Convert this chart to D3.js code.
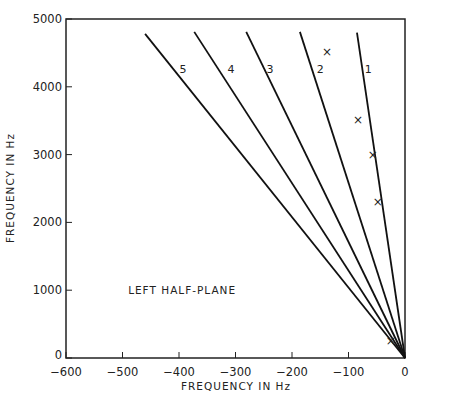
<!DOCTYPE html>
<html><head><meta charset="utf-8">
<script src="https://cdn.jsdelivr.net/npm/d3@7"></script>
<style>body{margin:0;background:#fff}text{font-family:"DejaVu Sans",sans-serif;fill:#222}</style>
</head><body><svg id="c" width="474" height="411"></svg>
<script>
const xTicks=[-600,-500,-400,-300,-200,-100,0];
const yTicks=[0,1000,2000,3000,4000,5000];
const lineNames=["1","2","3","4","5"];
const lineEndX=[-85,-186,-281,-373,-460];
const lineEndY=[4800,4810,4810,4810,4780];
const labelX=[-65,-150,-239,-308,-393];
const labelY=[4200,4200,4200,4200,4200];
const crossX=[-138,-83,-57,-48,-25];
const crossY=[4520,3510,3000,2300,250];

const svg=d3.select("#c");
const x=d3.scaleLinear().domain([-600,0]).range([66,405]);
const y=d3.scaleLinear().domain([0,5000]).range([358,19]);
const g=svg.append("g");
g.append("rect").attr("x",66).attr("y",19).attr("width",339).attr("height",339).attr("fill","none").attr("stroke","#222").attr("stroke-width",1.5);
g.selectAll(".xt").data(xTicks).join("line").attr("x1",d=>x(d)).attr("x2",d=>x(d)).attr("y1",358).attr("y2",352).attr("stroke","#222");
g.selectAll(".yt").data(yTicks).join("line").attr("x1",66).attr("x2",72).attr("y1",d=>y(d)).attr("y2",d=>y(d)).attr("stroke","#222");
g.selectAll(".xl").data(xTicks).join("text").attr("x",d=>x(d)).attr("y",376).attr("text-anchor","middle").attr("font-size",11.5).text(d=>d<0?"\u2212"+(-d):d);
g.selectAll(".yl").data(yTicks).join("text").attr("x",62).attr("y",d=>y(d)+(d===0?1:4)).attr("text-anchor","end").attr("font-size",11.5).text(d=>d);
g.append("text").attr("x",236).attr("y",390).attr("text-anchor","middle").attr("font-size",10.5).attr("letter-spacing",1).text("FREQUENCY IN Hz");
g.append("text").attr("transform","translate(14,188) rotate(-90)").attr("text-anchor","middle").attr("font-size",10.5).attr("letter-spacing",1).text("FREQUENCY IN Hz");
g.selectAll(".ln").data(lineNames).join("line").attr("x1",x(0)).attr("y1",y(0)).attr("x2",(d,i)=>x(lineEndX[i])).attr("y2",(d,i)=>y(lineEndY[i])).attr("stroke","#111").attr("stroke-width",1.8);
g.selectAll(".lb").data(lineNames).join("text").attr("x",(d,i)=>x(labelX[i])).attr("y",(d,i)=>y(labelY[i])).attr("text-anchor","middle").attr("font-size",11).text(d=>d);
g.selectAll(".cr").data(crossX).join("text").attr("x",d=>x(d)).attr("y",(d,i)=>y(crossY[i])+4).attr("text-anchor","middle").attr("font-size",12).text("\u00d7");
g.append("text").attr("x",x(-490)).attr("y",y(1000)+4).attr("font-size",10.5).attr("letter-spacing",1).text("LEFT HALF-PLANE");
</script></body></html>
